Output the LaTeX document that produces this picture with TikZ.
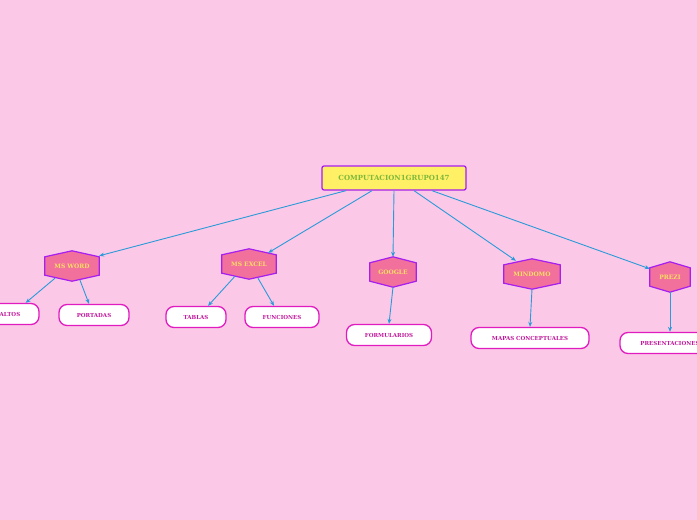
\documentclass[tikz,border=0pt]{standalone}
\usepackage{fontspec}
\setmainfont{DejaVu Serif}
\usetikzlibrary{arrows.meta,calc}
\definecolor{bgpink}{HTML}{FCC8E8}
\definecolor{hexfill}{HTML}{F2709C}
\definecolor{hexline}{HTML}{A61EF0}
\definecolor{leafline}{HTML}{E01CC0}
\definecolor{leaftext}{HTML}{C0189C}
\definecolor{arr}{HTML}{2A9BD8}
\definecolor{rootfill}{HTML}{FFF066}
\definecolor{roottext}{HTML}{7DB83A}
\definecolor{hextext}{HTML}{F8E060}
\tikzset{
  x=1pt,y=-1pt,
  rootbox/.style={draw=hexline,line width=1.3pt,fill=rootfill,rounded corners=2pt,minimum width=144pt,minimum height=24pt,font=\bfseries\fontsize{7}{8}\selectfont,text=roottext,inner sep=0pt},
  hexbox/.style={minimum height=30pt,inner sep=0pt,font=\bfseries\fontsize{6}{7}\selectfont,text=hextext},
  leafbox/.style={draw=leafline,line width=1.3pt,fill=white,rounded corners=8pt,minimum height=21pt,inner sep=0pt,font=\bfseries\fontsize{5.5}{6}\selectfont,text=leaftext},
  conn/.style={draw=arr,line width=0.9pt,-{Stealth[length=5pt,width=4pt]}}
}
\newcommand{\hexat}[4]{%
  \node[hexbox,minimum width=#4pt] (#1) at (#2,#3) {};
  \fill[hexfill,draw=hexline,line width=1.2pt] ($(#1.north west)+(0,6)$) -- (#1.north) -- ($(#1.north east)+(0,6)$) -- ($(#1.south east)+(0,-6)$) -- (#1.south) -- ($(#1.south west)+(0,-6)$) -- cycle;
}
\begin{document}
\begin{tikzpicture}
\fill[bgpink] (0,0) rectangle (697,520);
\useasboundingbox (0,0) rectangle (697,520);
\node[rootbox] (root) at (394,178) {COMPUTACION1GRUPO147};
\hexat{w}{72}{266}{54}
\node[hexbox] at (w) {MS WORD};
\hexat{e}{249}{264}{54}
\node[hexbox] at (e) {MS EXCEL};
\hexat{g}{393}{272}{46}
\node[hexbox] at (g) {GOOGLE};
\hexat{m}{532}{274}{56}
\node[hexbox] at (m) {MINDOMO};
\hexat{p}{670}{277}{40}
\node[hexbox] at (p) {PREZI};
\node[leafbox,minimum width=62pt] (l1) at (8,314) {SALTOS};
\node[leafbox,minimum width=70pt] (l2) at (94,315) {PORTADAS};
\node[leafbox,minimum width=60pt] (l3) at (196,317) {TABLAS};
\node[leafbox,minimum width=74pt] (l4) at (282,317) {FUNCIONES};
\node[leafbox,minimum width=85pt] (l5) at (389,335) {FORMULARIOS};
\node[leafbox,minimum width=118pt] (l6) at (530,338) {MAPAS CONCEPTUALES};
\node[leafbox,minimum width=100pt] (l7) at (670,343) {PRESENTACIONES};
\draw[conn] ($(root.south)+(-48,0)$) -- ($(w.north east)+(0,5)$);
\draw[conn] ($(root.south)+(-22,0)$) -- ($(e.north east)+(-8,4)$);
\draw[conn] (root.south) -- (g.north);
\draw[conn] ($(root.south)+(20,0)$) -- ($(m.north)+(-16,2)$);
\draw[conn] ($(root.south)+(38,0)$) -- ($(p.north west)+(0,7)$);
\draw[conn] ($(w.south)+(-17,-3)$) -- ($(l1.north east)+(-14,0)$);
\draw[conn] ($(w.south)+(8,-1)$) -- ($(l2.north)+(-5,0)$);
\draw[conn] ($(e.south)+(-14,-3)$) -- ($(l3.north)+(12,0)$);
\draw[conn] ($(e.south)+(9,-1)$) -- ($(l4.north)+(-8,0)$);
\draw[conn] (g.south) -- (l5.north);
\draw[conn] (m.south) -- (l6.north);
\draw[conn] (p.south) -- (l7.north);
\end{tikzpicture}
\end{document}
